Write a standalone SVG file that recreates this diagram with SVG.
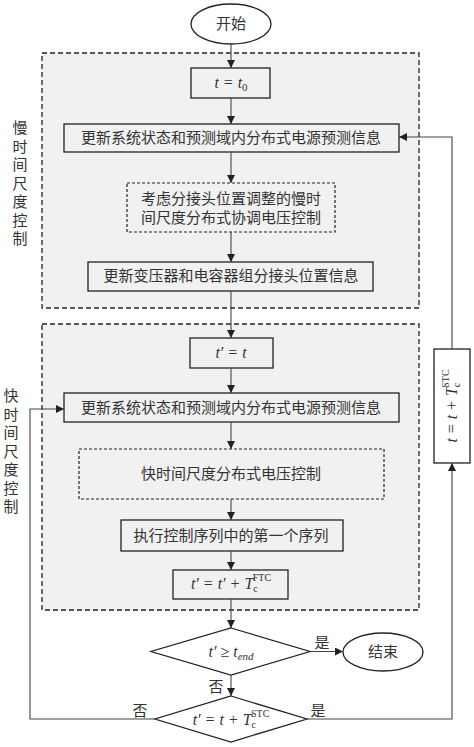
<svg xmlns="http://www.w3.org/2000/svg" width="474" height="747" viewBox="0 0 474 747">
<style>
.region{fill:#f1f1f1;stroke:#222;stroke-width:1.3;stroke-dasharray:5,3}
.box{fill:#f1f1f1;stroke:#222;stroke-width:1.3}
.dbox{fill:#f1f1f1;stroke:#222;stroke-width:1.2;stroke-dasharray:3,2}
.wbox{fill:#fff;stroke:#222;stroke-width:1.3}
.cn{font-family:"Noto Sans CJK SC","Noto Sans",sans-serif;font-size:15px;fill:#333;text-anchor:middle}
.lbl{font-family:"Noto Sans CJK SC","Noto Sans",sans-serif;font-size:15px;fill:#333;text-anchor:middle}
.vl{font-family:"Noto Sans CJK SC","Noto Sans",sans-serif;font-size:15px;fill:#333;writing-mode:vertical-rl;letter-spacing:3.5px}
.m{font-family:"Liberation Serif","DejaVu Serif",serif;font-size:16px;fill:#333;font-style:italic}
.r{font-style:normal}
.line{fill:none;stroke:#444;stroke-width:1.1}
</style>
<defs>
<marker id="ah" markerWidth="8" markerHeight="8" refX="8" refY="4" orient="auto" markerUnits="userSpaceOnUse">
<path d="M0,0 L8,4 L0,8 Z" fill="#222"/>
</marker>
</defs>

<g id="slow-region">
<rect class="region" x="42" y="53" width="377" height="255"/>
<text class="vl" x="20" y="120">慢时间尺度控制</text>
</g>
<g id="fast-region">
<rect class="region" x="42" y="324" width="377" height="286"/>
<text class="vl" x="11" y="388">快时间尺度控制</text>
</g>

<g id="start">
<ellipse cx="231" cy="24" rx="40" ry="20" fill="#fff" stroke="#222" stroke-width="1.3"/>
<text class="cn" x="231" y="29">开始</text>
</g>
<g id="t0">
<rect class="box" x="191" y="68" width="79" height="30"/>
<text class="m" x="231" y="88" text-anchor="middle">t = t<tspan class="r" font-size="11" dy="3">0</tspan></text>
</g>
<g id="update1">
<rect class="box" x="64" y="124" width="335" height="28"/>
<text class="cn" x="231" y="143">更新系统状态和预测域内分布式电源预测信息</text>
</g>
<g id="slowctrl">
<rect class="dbox" x="127" y="183" width="208" height="49"/>
<text class="cn" x="231" y="204">考虑分接头位置调整的慢时</text>
<text class="cn" x="231" y="223">间尺度分布式协调电压控制</text>
</g>
<g id="taps">
<rect class="box" x="88" y="262" width="285" height="29"/>
<text class="cn" x="231" y="281">更新变压器和电容器组分接头位置信息</text>
</g>
<g id="tp">
<rect class="box" x="190" y="338" width="83" height="30"/>
<text class="m" x="231" y="358" text-anchor="middle">t′ = t</text>
</g>
<g id="update2">
<rect class="box" x="64" y="393" width="335" height="29"/>
<text class="cn" x="231" y="413">更新系统状态和预测域内分布式电源预测信息</text>
</g>
<g id="fastctrl">
<rect class="dbox" x="79" y="449" width="305" height="50"/>
<text class="cn" x="231" y="479">快时间尺度分布式电压控制</text>
</g>
<g id="exec">
<rect class="box" x="121" y="520" width="222" height="31"/>
<text class="cn" x="231" y="541">执行控制序列中的第一个序列</text>
</g>
<g id="tpinc">
<rect class="box" x="173" y="570" width="115" height="29"/>
<text class="m" x="231" y="589" text-anchor="middle">t′ = t′ + T<tspan class="r" font-size="10" dy="3">c</tspan><tspan class="r" font-size="10" dx="-5" dy="-11">FTC</tspan></text>
</g>
<g id="dec1">
<path d="M231,628 L310,651.5 L231,675 L151,651.5 Z" fill="#fff" stroke="#222" stroke-width="1.3"/>
<text class="m" x="231" y="657" text-anchor="middle">t′ ≥ t<tspan font-size="11" dy="3">end</tspan></text>
</g>
<g id="end">
<ellipse cx="383" cy="652" rx="40" ry="19" fill="#fff" stroke="#222" stroke-width="1.3"/>
<text class="cn" x="383" y="657">结束</text>
</g>
<g id="dec2">
<path d="M231,696 L307,719 L231,742 L155,719 Z" fill="#fff" stroke="#222" stroke-width="1.3"/>
<text class="m" x="231" y="725" text-anchor="middle">t′ = t + T<tspan class="r" font-size="10" dy="3">c</tspan><tspan class="r" font-size="10" dx="-5" dy="-11">STC</tspan></text>
</g>
<g id="tinc">
<rect class="wbox" x="434" y="349" width="36" height="114"/>
<text class="m" transform="translate(457,406) rotate(-90)" x="0" y="0" text-anchor="middle">t = t + T<tspan class="r" font-size="10" dy="3">c</tspan><tspan class="r" font-size="10" dx="-5" dy="-11">STC</tspan></text>
</g>

<g id="connectors">
<path class="line" d="M231,44 V68" marker-end="url(#ah)"/>
<path class="line" d="M231,98 V124" marker-end="url(#ah)"/>
<path class="line" d="M231,152 V183" marker-end="url(#ah)"/>
<path class="line" d="M231,232 V262" marker-end="url(#ah)"/>
<path class="line" d="M231,291 V338" marker-end="url(#ah)"/>
<path class="line" d="M231,368 V393" marker-end="url(#ah)"/>
<path class="line" d="M231,422 V449" marker-end="url(#ah)"/>
<path class="line" d="M231,499 V520" marker-end="url(#ah)"/>
<path class="line" d="M231,551 V570" marker-end="url(#ah)"/>
<path class="line" d="M231,599 V628" marker-end="url(#ah)"/>
<path class="line" d="M231,675 V696" marker-end="url(#ah)"/>
<path class="line" d="M310,651.5 H343" marker-end="url(#ah)"/>
<path class="line" d="M155,719 H30 V409 H64" marker-end="url(#ah)"/>
<path class="line" d="M307,719 H452 V463" marker-end="url(#ah)"/>
<path class="line" d="M452,349 V137 H399" marker-end="url(#ah)"/>
<text class="lbl" x="322" y="648">是</text>
<text class="lbl" x="216" y="692">否</text>
<text class="lbl" x="140" y="716">否</text>
<text class="lbl" x="318" y="716">是</text>
</g>
</svg>
